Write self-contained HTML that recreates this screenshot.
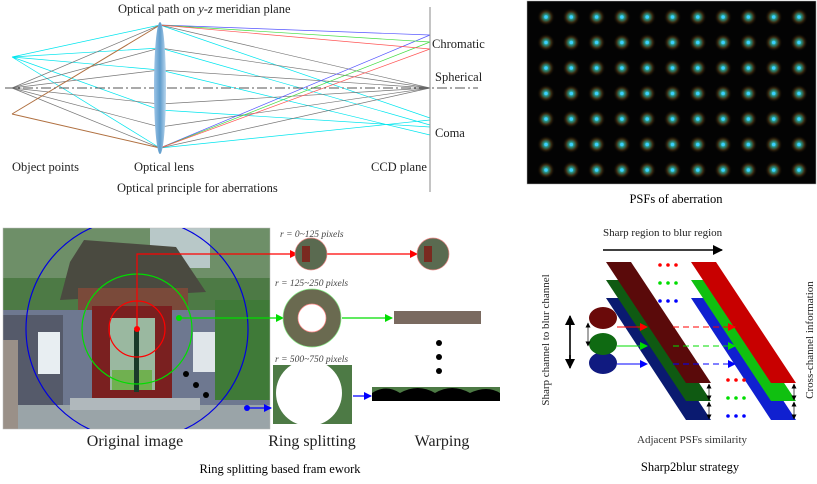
<!DOCTYPE html>
<html><head><meta charset="utf-8"><style>
html,body{margin:0;padding:0;background:#fff;}
svg{display:block;font-family:"Liberation Serif",serif;}
</style></head><body>
<svg width="817" height="484" viewBox="0 0 817 484" xmlns="http://www.w3.org/2000/svg">
<defs>
<radialGradient id="psf" cx="0.5" cy="0.5" r="0.5">
<stop offset="0" stop-color="#4ad8ff"/><stop offset="0.25" stop-color="#2a9a8a"/><stop offset="0.6" stop-color="#3a2a10"/><stop offset="1" stop-color="#000" stop-opacity="0"/>
</radialGradient>
<pattern id="psfpat" patternUnits="userSpaceOnUse" x="533.35" y="4.25" width="25.3" height="25.5">
<circle cx="12.65" cy="12.75" r="9" fill="url(#psf)"/>
<circle cx="12.65" cy="12.75" r="1.8" fill="#3bd0ff"/>
</pattern>
<linearGradient id="lens" x1="0" x2="1"><stop offset="0" stop-color="#9cc4e6"/><stop offset="0.5" stop-color="#5f9ccc"/><stop offset="1" stop-color="#b8d6ee"/></linearGradient>
<clipPath id="photo"><rect x="3" y="228" width="267" height="201"/></clipPath>
<marker id="ar" markerWidth="8" markerHeight="8" refX="7" refY="4" orient="auto" markerUnits="userSpaceOnUse"><path d="M0,0 L8,4 L0,8z" fill="red"/></marker>
<marker id="ag" markerWidth="8" markerHeight="8" refX="7" refY="4" orient="auto" markerUnits="userSpaceOnUse"><path d="M0,0 L8,4 L0,8z" fill="#0d0"/></marker>
<marker id="ab" markerWidth="8" markerHeight="8" refX="7" refY="4" orient="auto" markerUnits="userSpaceOnUse"><path d="M0,0 L8,4 L0,8z" fill="#00f"/></marker>
<marker id="ak" markerWidth="10" markerHeight="10" refX="9" refY="5" orient="auto" markerUnits="userSpaceOnUse"><path d="M0,0 L10,5 L0,10z" fill="#000"/></marker>
<marker id="ak2" markerWidth="5" markerHeight="5" refX="4.5" refY="2.5" orient="auto" markerUnits="userSpaceOnUse"><path d="M0,0 L5,2.5 L0,5z" fill="#000"/></marker>
</defs>

<!-- Optics -->
<g stroke-width="0.7" fill="none">
<g stroke="#00e5ee">
<path d="M12,57 L160,25 M12,57 L160,48 M12,57 L160,70 M12,57 L160,110 M12,57 L160,148"/>
<path d="M160,25 L430,118 M160,48 L430,125 M160,70 L430,135 M160,110 L430,127 M160,148 L430,120"/>
</g>
<g stroke="#777">
<path d="M12,88 L160,25 M12,88 L160,48 M12,88 L160,70 M12,88 L160,104 M12,88 L160,127 M12,88 L160,148"/>
<path d="M160,25 L430,88 M160,48 L430,88 M160,70 L430,88 M160,104 L430,88 M160,127 L430,88 M160,148 L430,88"/>
</g>
<path d="M12,114 L160,25 M12,114 L160,148" stroke="#b07040" stroke-width="1"/>
<path d="M160,25 L430,35 M160,148 L430,35" stroke="#55f"/>
<path d="M160,25 L430,42 M160,148 L430,42" stroke="#4d4"/>
<path d="M160,25 L430,49 M160,148 L430,49" stroke="#f55"/>
</g>
<line x1="5" y1="88" x2="478" y2="88" stroke="#555" stroke-width="1" stroke-dasharray="10,3,2,3"/>
<ellipse cx="160" cy="88" rx="6" ry="66" fill="url(#lens)"/>
<line x1="430" y1="7" x2="430" y2="192" stroke="#888" stroke-width="1"/>
<g font-size="12.5" fill="#222">
<text x="118" y="13">Optical path on <tspan font-style="italic">y-z</tspan> meridian plane</text>
<text x="432" y="48">Chromatic</text>
<text x="435" y="81">Spherical</text>
<text x="435" y="137">Coma</text>
<text x="12" y="171">Object points</text>
<text x="134" y="171">Optical lens</text>
<text x="371" y="171">CCD plane</text>
<text x="117" y="192">Optical principle for aberrations</text>
</g>

<!-- PSFs -->
<rect x="527" y="1" width="289" height="183" fill="#030303" stroke="#aaa" stroke-width="0.5"/>
<rect x="533.35" y="4.25" width="278.3" height="178.5" fill="url(#psfpat)"/>
<text x="676" y="203" font-size="12.5" text-anchor="middle">PSFs of aberration</text>

<!-- Photo -->
<g clip-path="url(#photo)">
<rect x="3" y="228" width="267" height="201" fill="#4d7a45"/>
<rect x="3" y="228" width="267" height="50" fill="#6e8f68"/>
<rect x="150" y="228" width="60" height="40" fill="#b8c8c8"/>
<rect x="3" y="310" width="267" height="100" fill="#6e7890"/>
<rect x="3" y="315" width="60" height="100" fill="#555a6a"/>
<rect x="38" y="332" width="22" height="42" fill="#e8eef2"/>
<rect x="193" y="332" width="25" height="40" fill="#e0e6ea"/>
<rect x="215" y="300" width="55" height="100" fill="#3f7a38"/>
<polygon points="70,262 84,240 176,247 206,292 60,300" fill="#4a4a40"/>
<rect x="78" y="288" width="110" height="22" fill="#7a4a3a"/>
<rect x="92" y="306" width="80" height="104" fill="#7a2020"/>
<rect x="110" y="318" width="45" height="72" fill="#9ab8a0"/>
<rect x="112" y="370" width="40" height="20" fill="#70b050"/>
<rect x="134" y="330" width="5" height="62" fill="#1a3a2a"/>
<rect x="3" y="405" width="267" height="24" fill="#9aa4a8"/>
<rect x="70" y="398" width="130" height="12" fill="#b0b8bc"/>
<rect x="3" y="340" width="15" height="89" fill="#9a9088"/>
</g>
<rect x="3" y="228" width="267" height="201" fill="none" stroke="#bbb" stroke-width="0.5"/>
<g fill="none" stroke-width="1.2">
<circle cx="137" cy="329" r="111" stroke="#0000e0" clip-path="url(#photo)"/>
<circle cx="137" cy="329" r="55" stroke="#00dd00"/>
<circle cx="137" cy="329" r="28" stroke="#ff0000"/>
</g>
<circle cx="137" cy="329" r="3" fill="red"/>
<circle cx="179" cy="318" r="3" fill="#0d0"/>
<circle cx="247" cy="408" r="3" fill="#00f"/>
<circle cx="186" cy="374" r="3" fill="#000"/><circle cx="196" cy="385" r="3" fill="#000"/><circle cx="206" cy="395" r="3" fill="#000"/>
<path d="M137,329 L137,254 L297,254" stroke="red" stroke-width="1.2" fill="none" marker-end="url(#ar)"/>
<path d="M327,254 L417,254" stroke="red" stroke-width="1.2" marker-end="url(#ar)"/>
<path d="M179,318 L283,318" stroke="#0d0" stroke-width="1.2" marker-end="url(#ag)"/>
<path d="M342,318 L392,318" stroke="#0d0" stroke-width="1.2" marker-end="url(#ag)"/>
<path d="M247,408 L271,408" stroke="#00f" stroke-width="1.2" marker-end="url(#ab)"/>
<path d="M353,396 L371,396" stroke="#00f" stroke-width="1.2" marker-end="url(#ab)"/>
<circle cx="311" cy="254" r="16" fill="#5a6a50" stroke="#e88" stroke-width="0.7"/>
<rect x="302" y="246" width="8" height="16" fill="#7a2a20"/>
<circle cx="433" cy="254" r="16" fill="#5a6a50" stroke="#e88" stroke-width="0.7"/>
<rect x="424" y="246" width="8" height="16" fill="#7a2a20"/>
<circle cx="312" cy="318" r="29" fill="#6a6a50" stroke="#8e8" stroke-width="0.7"/>
<circle cx="312" cy="318" r="14" fill="#fff" stroke="#f88" stroke-width="0.7"/>
<rect x="394" y="311" width="87" height="13" fill="#7a6a60"/>
<circle cx="439" cy="343" r="3" fill="#000"/><circle cx="439" cy="357" r="3" fill="#000"/><circle cx="439" cy="371" r="3" fill="#000"/>
<rect x="273" y="365" width="79" height="59" fill="#4d7a45"/>
<circle cx="309" cy="393" r="33" fill="#fff"/>
<rect x="372" y="387" width="128" height="14" fill="#000"/>
<path d="M372,387 h128 v6 Q487,385 470,393 Q452,383 435,393 Q418,383 400,393 Q386,384 372,393z" fill="#4d7a45"/>
<g font-size="9.5" font-style="italic" fill="#444">
<text x="280" y="237">r = 0~125 pixels</text>
<text x="275" y="286">r = 125~250 pixels</text>
<text x="275" y="362">r = 500~750 pixels</text>
</g>
<g font-size="16" fill="#222">
<text x="135" y="446" text-anchor="middle">Original image</text>
<text x="312" y="446" text-anchor="middle">Ring splitting</text>
<text x="442" y="446" text-anchor="middle">Warping</text>
</g>
<text x="280" y="473" font-size="12.5" text-anchor="middle">Ring splitting based fram ework</text>

<!-- Sharp2blur -->
<text x="603" y="236" font-size="11" fill="#222">Sharp region to blur region</text>
<line x1="603" y1="250" x2="722" y2="250" stroke="#000" stroke-width="1.5" marker-end="url(#ak)"/>
<g>
<polygon points="606,298 631,298 711,420 686,420" fill="#0a1a70"/>
<polygon points="606,280 631,280 711,401 686,401" fill="#0f5a12"/>
<polygon points="606,262 631,262 711,383 686,383" fill="#5a0a0a"/>
<polygon points="691,298 716,298 796,420 771,420" fill="#1020d0"/>
<polygon points="691,280 716,280 796,401 771,401" fill="#10c010"/>
<polygon points="691,262 716,262 796,383 771,383" fill="#c80000"/>
</g>
<ellipse cx="603" cy="363" rx="14" ry="11" fill="#101a80"/>
<ellipse cx="603" cy="344" rx="14" ry="11" fill="#0f6a12"/>
<ellipse cx="603" cy="318" rx="14" ry="11" fill="#6a0a0a"/>
<g stroke-width="1">
<line x1="617" y1="327" x2="647" y2="327" stroke="red" marker-end="url(#ar)"/>
<line x1="673" y1="327" x2="735" y2="327" stroke="red" stroke-dasharray="6,4" marker-end="url(#ar)"/>
<line x1="617" y1="346" x2="647" y2="346" stroke="#0d0" marker-end="url(#ag)"/>
<line x1="673" y1="346" x2="735" y2="346" stroke="#0d0" stroke-dasharray="6,4" marker-end="url(#ag)"/>
<line x1="617" y1="364" x2="647" y2="364" stroke="#00f" marker-end="url(#ab)"/>
<line x1="673" y1="364" x2="735" y2="364" stroke="#00f" stroke-dasharray="6,4" marker-end="url(#ab)"/>
</g>
<g>
<circle cx="660" cy="265" r="1.8" fill="red"/><circle cx="668" cy="265" r="1.8" fill="red"/><circle cx="676" cy="265" r="1.8" fill="red"/>
<circle cx="660" cy="283" r="1.8" fill="#0d0"/><circle cx="668" cy="283" r="1.8" fill="#0d0"/><circle cx="676" cy="283" r="1.8" fill="#0d0"/>
<circle cx="660" cy="301" r="1.8" fill="#00f"/><circle cx="668" cy="301" r="1.8" fill="#00f"/><circle cx="676" cy="301" r="1.8" fill="#00f"/>
<circle cx="728" cy="380" r="1.8" fill="red"/><circle cx="736" cy="380" r="1.8" fill="red"/><circle cx="744" cy="380" r="1.8" fill="red"/>
<circle cx="728" cy="398" r="1.8" fill="#0d0"/><circle cx="736" cy="398" r="1.8" fill="#0d0"/><circle cx="744" cy="398" r="1.8" fill="#0d0"/>
<circle cx="728" cy="416" r="1.8" fill="#00f"/><circle cx="736" cy="416" r="1.8" fill="#00f"/><circle cx="744" cy="416" r="1.8" fill="#00f"/>
</g>
<g stroke="#000" stroke-width="1.6">
<line x1="570" y1="330" x2="570" y2="316" marker-end="url(#ak)"/>
<line x1="570" y1="355" x2="570" y2="368" marker-end="url(#ak)"/>
<line x1="570" y1="325" x2="570" y2="360"/>
</g>
<g stroke="#000" stroke-width="0.7">
<line x1="588" y1="330" x2="588" y2="323" marker-end="url(#ak2)"/><line x1="588" y1="330" x2="588" y2="346" marker-end="url(#ak2)"/>
<line x1="709" y1="395" x2="709" y2="384" marker-end="url(#ak2)"/><line x1="709" y1="395" x2="709" y2="400" marker-end="url(#ak2)"/>
<line x1="709" y1="410" x2="709" y2="402" marker-end="url(#ak2)"/><line x1="709" y1="410" x2="709" y2="419" marker-end="url(#ak2)"/>
<line x1="794" y1="395" x2="794" y2="384" marker-end="url(#ak2)"/><line x1="794" y1="395" x2="794" y2="400" marker-end="url(#ak2)"/>
<line x1="794" y1="410" x2="794" y2="402" marker-end="url(#ak2)"/><line x1="794" y1="410" x2="794" y2="419" marker-end="url(#ak2)"/>
</g>
<text transform="translate(549,340) rotate(-90)" font-size="11" fill="#222" text-anchor="middle">Sharp channel to blur channel</text>
<text transform="translate(813,340) rotate(-90)" font-size="11" fill="#222" text-anchor="middle">Cross-channel information</text>
<text x="692" y="443" font-size="11" fill="#333" text-anchor="middle">Adjacent PSFs similarity</text>
<text x="690" y="471" font-size="12.5" text-anchor="middle">Sharp2blur strategy</text>
</svg>
</body></html>
